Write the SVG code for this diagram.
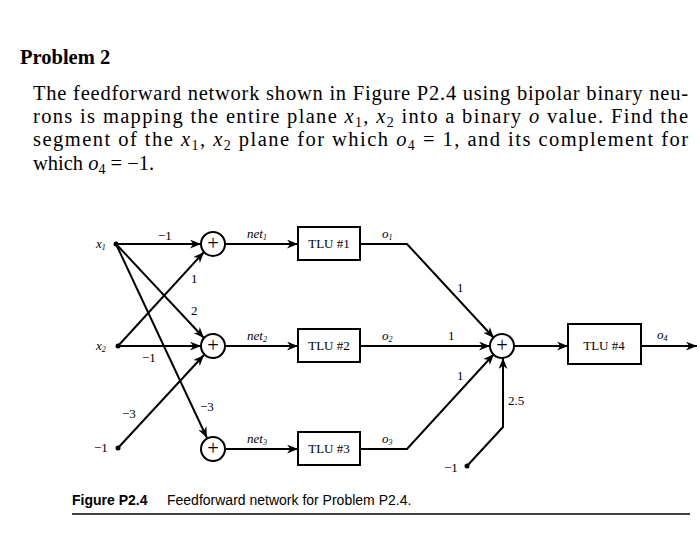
<svg xmlns="http://www.w3.org/2000/svg" width="700" height="559" viewBox="0 0 700 559">
<defs>
<marker id="ah" viewBox="0 0 10 8" refX="10" refY="4" markerWidth="11" markerHeight="9" markerUnits="userSpaceOnUse" orient="auto"><path d="M0,0 L10,4 L0,8 L3,4 z" fill="#000"/></marker>
<style>
.t{font-family:"Liberation Serif",serif;font-size:20.5px;fill:#000}
.s{font-family:"Liberation Serif",serif;font-size:13px;fill:#000}
.i{font-style:italic}
.a{stroke:#000;stroke-width:2;fill:none;marker-end:url(#ah)}
.b{fill:#fff;stroke:#000;stroke-width:2}
</style>
</defs>
<rect width="700" height="559" fill="#fff"/>
<text x="20" y="64" class="t" font-weight="bold" font-size="19">Problem 2</text>
<text x="33" y="100" class="t" textLength="655" lengthAdjust="spacing">The feedforward network shown in Figure P2.4 using bipolar binary neu-</text>
<text x="33" y="123" class="t" textLength="655" lengthAdjust="spacing">rons is mapping the entire plane <tspan class="i">x</tspan><tspan font-size="14" dy="4">1</tspan><tspan dy="-4">, </tspan><tspan class="i">x</tspan><tspan font-size="14" dy="4">2</tspan><tspan dy="-4"> into a binary </tspan><tspan class="i">o</tspan> value. Find the</text>
<text x="33" y="146" class="t" textLength="655" lengthAdjust="spacing">segment of the <tspan class="i">x</tspan><tspan font-size="14" dy="4">1</tspan><tspan dy="-4">, </tspan><tspan class="i">x</tspan><tspan font-size="14" dy="4">2</tspan><tspan dy="-4"> plane for which </tspan><tspan class="i">o</tspan><tspan font-size="14" dy="4">4</tspan><tspan dy="-4"> = 1, and its complement for</tspan></text>
<text x="33" y="170" class="t">which <tspan class="i">o</tspan><tspan font-size="14" dy="4">4</tspan><tspan dy="-4"> = −1.</tspan></text>

<g id="connectors">
<path class="a" d="M116,244 L201,244"/>
<path class="a" d="M116,244 L204,338"/>
<path class="a" d="M116,244 L207,438"/>
<path class="a" d="M118,346 L204,252"/>
<path class="a" d="M118,346 L201,346"/>
<path class="a" d="M118,448 L204,355"/>
<path class="a" d="M225,244 L298,244"/>
<path class="a" d="M225,346 L298,346"/>
<path class="a" d="M225,449 L298,449"/>
<path class="a" d="M360,244 L407,244 L494,338"/>
<path class="a" d="M360,346 L490,346"/>
<path class="a" d="M360,449 L407,449 L494,354"/>
<path class="a" d="M467,466 L503,427 L503,358"/>
<path class="a" d="M514,346 L568,346"/>
<path class="a" d="M641,346 L697,346"/>
</g>
<g id="dots"><circle cx="116" cy="244" r="2.5"/><circle cx="118" cy="346" r="2.5"/><circle cx="118" cy="448" r="2.5"/><circle cx="467" cy="466" r="2.5"/></g>
<g id="sum1"><circle class="b" cx="213" cy="244" r="12"/><text x="213" y="250" class="t" font-size="18" text-anchor="middle">+</text></g>
<g id="sum2"><circle class="b" cx="213" cy="346" r="12"/><text x="213" y="352" class="t" font-size="18" text-anchor="middle">+</text></g>
<g id="sum3"><circle class="b" cx="213" cy="449" r="12"/><text x="213" y="455" class="t" font-size="18" text-anchor="middle">+</text></g>
<g id="sum4"><circle class="b" cx="502" cy="346" r="12"/><text x="502" y="352" class="t" font-size="18" text-anchor="middle">+</text></g>
<g id="tlu1"><rect class="b" x="298" y="227" width="62" height="33"/><text x="329" y="248" class="s" text-anchor="middle">TLU #1</text></g>
<g id="tlu2"><rect class="b" x="298" y="329" width="62" height="33"/><text x="329" y="350" class="s" text-anchor="middle">TLU #2</text></g>
<g id="tlu3"><rect class="b" x="298" y="432" width="62" height="33"/><text x="329" y="453" class="s" text-anchor="middle">TLU #3</text></g>
<g id="tlu4"><rect class="b" x="568" y="324" width="73" height="40"/><text x="604" y="350" class="s" text-anchor="middle">TLU #4</text></g>
<g id="labels">
<text x="96" y="248" class="s i">x<tspan font-size="8" dy="2">1</tspan></text>
<text x="96" y="350" class="s i">x<tspan font-size="8" dy="2">2</tspan></text>
<text x="94" y="452" class="s" font-size="14">−1</text>
<text x="158" y="240" class="s" font-size="14">−1</text>
<text x="191" y="283" class="s" font-size="14">1</text>
<text x="191" y="315" class="s" font-size="14">2</text>
<text x="142" y="362" class="s" font-size="14">−1</text>
<text x="122" y="418" class="s" font-size="14">−3</text>
<text x="200" y="411" class="s" font-size="14">−3</text>
<text x="247" y="238" class="s i">net<tspan font-size="8" dy="2">1</tspan></text>
<text x="247" y="340" class="s i">net<tspan font-size="8" dy="2">2</tspan></text>
<text x="247" y="443" class="s i">net<tspan font-size="8" dy="2">3</tspan></text>
<text x="382" y="238" class="s i">o<tspan font-size="8" dy="2">1</tspan></text>
<text x="382" y="340" class="s i">o<tspan font-size="8" dy="2">2</tspan></text>
<text x="382" y="443" class="s i">o<tspan font-size="8" dy="2">3</tspan></text>
<text x="457" y="292" class="s">1</text>
<text x="448" y="340" class="s">1</text>
<text x="457" y="380" class="s">1</text>
<text x="508" y="405" class="s">2.5</text>
<text x="444" y="472" class="s">−1</text>
<text x="657" y="339" class="s i">o<tspan font-size="8" dy="2">4</tspan></text>
</g>
<text x="72" y="505" font-family="Liberation Sans,sans-serif" font-size="14" font-weight="bold">Figure P2.4</text>
<text x="167" y="505" font-family="Liberation Sans,sans-serif" font-size="14">Feedforward network for Problem P2.4.</text>
<line x1="72" y1="514" x2="690" y2="514" stroke="#000" stroke-width="1.5"/>
</svg>
